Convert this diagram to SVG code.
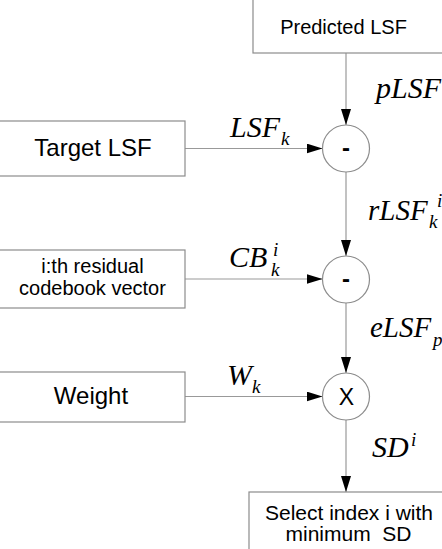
<svg xmlns="http://www.w3.org/2000/svg" width="442" height="549" viewBox="0 0 442 549">
<style>
.box{fill:#fff;stroke:#8c8c8c;stroke-width:1.2}
.op{fill:#fff;stroke:#8c8c8c;stroke-width:1.2}
.ln{stroke:#999;stroke-width:1.2;fill:none}
.t{font-family:"Liberation Sans",Arial,sans-serif;fill:#000;text-anchor:middle}
.m{font-family:"Liberation Serif","Times New Roman",serif;font-style:italic;fill:#000;font-size:30px}
.s{font-size:19px}
</style>
<defs>
<marker id="arr" markerUnits="userSpaceOnUse" markerWidth="16" markerHeight="10" refX="16" refY="5" orient="auto">
<path d="M0,0 L16,5 L0,10 z" fill="#000"/>
</marker>
</defs>
<g id="connectors">
<line class="ln" x1="346" y1="53" x2="346" y2="125" marker-end="url(#arr)"/>
<line class="ln" x1="185" y1="148.5" x2="322.5" y2="148.5" marker-end="url(#arr)"/>
<line class="ln" x1="346" y1="172" x2="346" y2="256" marker-end="url(#arr)"/>
<line class="ln" x1="185" y1="279" x2="322.5" y2="279" marker-end="url(#arr)"/>
<line class="ln" x1="346" y1="303" x2="346" y2="373" marker-end="url(#arr)"/>
<line class="ln" x1="185" y1="396.5" x2="322.5" y2="396.5" marker-end="url(#arr)"/>
<line class="ln" x1="346" y1="420" x2="346" y2="492" marker-end="url(#arr)"/>
</g>
<g id="labels" font-family="Liberation Serif, serif" font-style="italic">
<text class="m" x="376" y="98">pLSF</text>
<text class="m" x="230" y="136.5">LSF<tspan class="s" x="281" y="145">k</tspan></text>
<text class="m" x="368" y="220" font-size="29px" style="font-size:29px">rLSF<tspan class="s" x="429" y="228">k</tspan><tspan class="s" x="437" y="207">i</tspan></text>
<text class="m" x="229" y="266.5">CB<tspan class="s" x="273" y="256">i</tspan><tspan class="s" x="271" y="276">k</tspan></text>
<text class="m" x="370" y="337" style="font-size:29px">eLSF<tspan class="s" x="433" y="346">p</tspan></text>
<text class="m" x="227" y="385">W<tspan class="s" x="252" y="393">k</tspan></text>
<text class="m" x="372" y="456.5">SD<tspan class="s" x="411" y="446">i</tspan></text>
</g>
<g id="predicted">
<rect class="box" x="253" y="-2" width="200" height="55"/>
<text class="t" x="343.5" y="34" font-size="20">Predicted LSF</text>
</g>
<g id="target">
<rect class="box" x="-2" y="121" width="187" height="55"/>
<text class="t" x="93" y="156" font-size="24">Target LSF</text>
</g>
<g id="codebook">
<rect class="box" x="-2" y="250" width="187" height="58"/>
<text class="t" x="92.5" y="273" font-size="20">i:th residual</text>
<text class="t" x="92.5" y="295" font-size="20">codebook vector</text>
</g>
<g id="weight">
<rect class="box" x="-2" y="372" width="187" height="50"/>
<text class="t" x="91" y="403.5" font-size="24">Weight</text>
</g>
<g id="sub1">
<circle class="op" cx="346" cy="148.5" r="23.5"/>
<text class="t" x="346" y="156" font-size="24" font-weight="bold">-</text>
</g>
<g id="sub2">
<circle class="op" cx="346" cy="279.5" r="23.5"/>
<text class="t" x="346" y="287" font-size="24" font-weight="bold">-</text>
</g>
<g id="mul">
<circle class="op" cx="346" cy="396.5" r="23.5"/>
<text class="t" x="346.5" y="405" font-size="23">X</text>
</g>
<g id="select">
<rect class="box" x="249" y="492" width="200" height="60"/>
<text class="t" x="349" y="520" font-size="21">Select index i with</text>
<text class="t" x="348.5" y="541" font-size="21" xml:space="preserve">minimum  SD</text>
</g>
</svg>
